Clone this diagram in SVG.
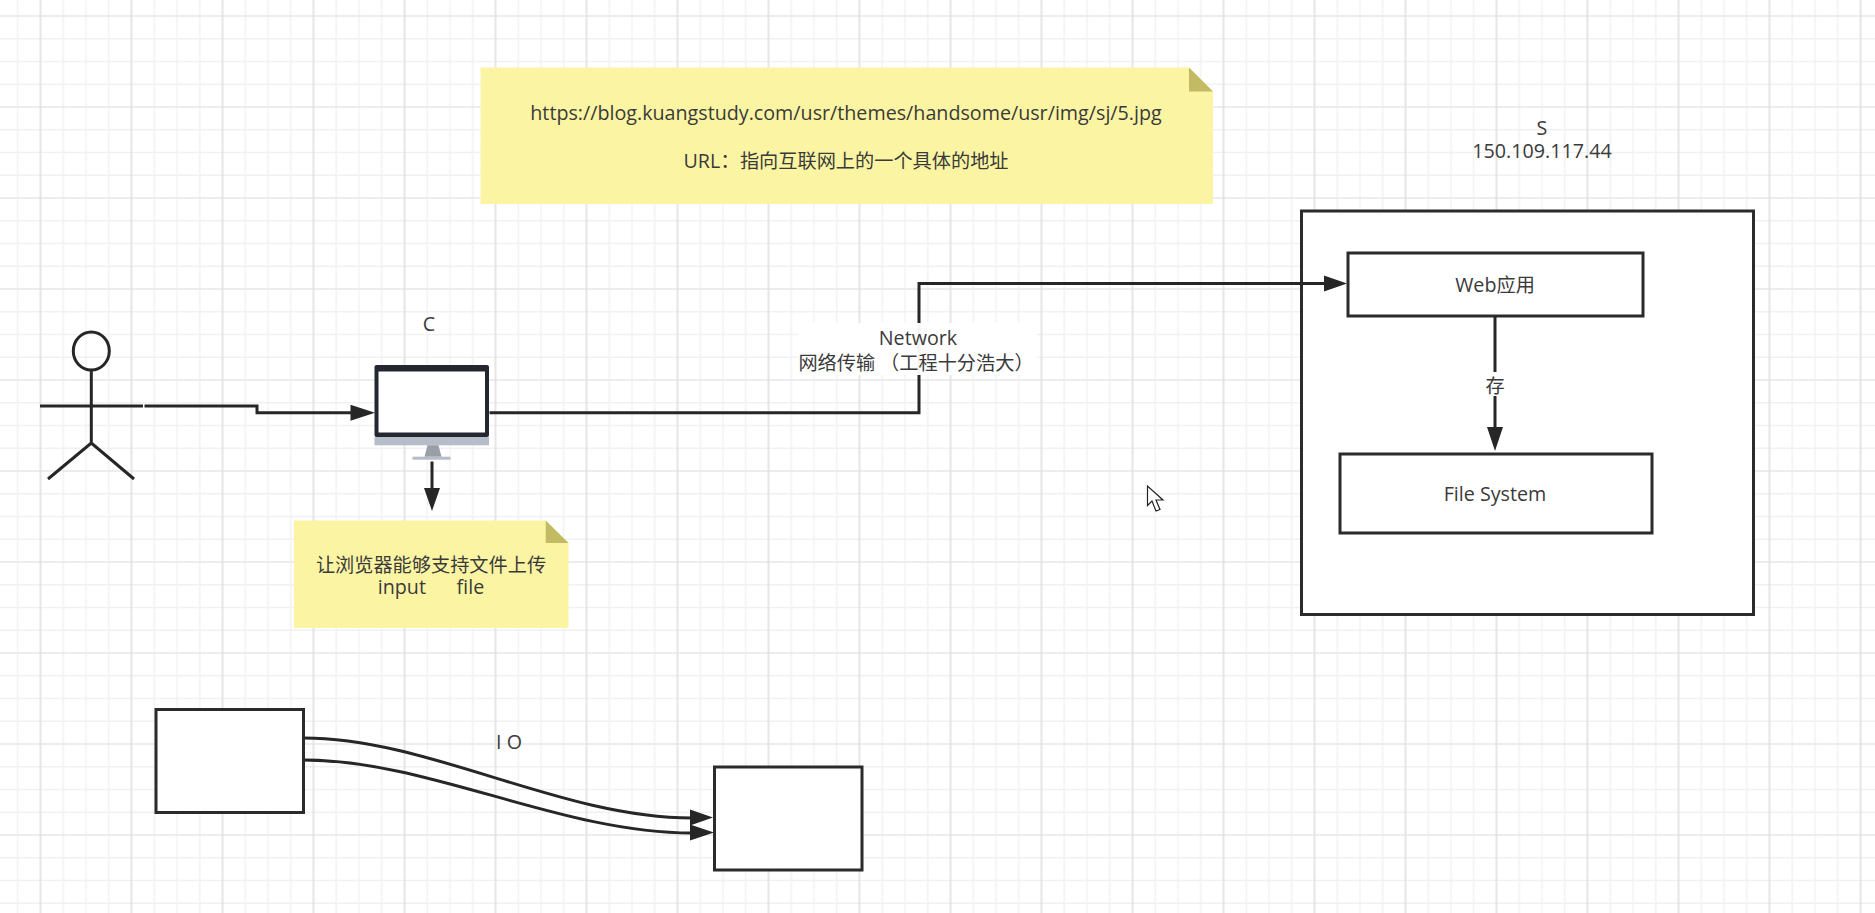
<svg xmlns="http://www.w3.org/2000/svg" width="1875" height="913" viewBox="0 0 1875 913">
<style>
text{font-family:"Open Sans","Noto Sans CJK SC",sans-serif;font-size:19.7px;fill:#3a3a3a;text-anchor:middle;dominant-baseline:central}
.box{fill:#fff;stroke:#2b2b2b;stroke-width:3}
.note{fill:#fbf5a3}
.fold{fill:#c2bb63}
.line{fill:none;stroke:#262626;stroke-width:3}
.head{fill:#262626}
.actor{fill:none;stroke:#262626;stroke-width:3}
.cjk{font-size:19.2px}
</style>
<defs>
<pattern id="grid" patternUnits="userSpaceOnUse" x="40.5" y="16" width="91" height="91">
<path d="M22.75 0V91M45.5 0V91M68.25 0V91M0 22.75H91M0 45.5H91M0 68.25H91" fill="none" stroke="#f1f1f1" stroke-width="1.5"/>
<path d="M0 0H91M0 91H91" fill="none" stroke="#e8e8e8" stroke-width="1.5"/>
<path d="M0 0V91M91 0V91" fill="none" stroke="#dedede" stroke-width="1.5"/>
</pattern>
</defs>
<rect id="background" width="1875" height="913" fill="#fff"/>
<rect id="grid-layer" width="1875" height="913" fill="url(#grid)"/>

<g id="note-url">
<polygon class="note" points="480.5,67.5 1189,67.5 1213,91.5 1213,204 480.5,204"/>
<polygon class="fold" points="1189,67.5 1213,91.5 1189,91.5"/>
<text x="846" y="112.5">https://blog.kuangstudy.com/usr/themes/handsome/usr/img/sj/5.jpg</text>
<text x="846" y="160">URL：<tspan class="cjk">指向互联网上的一个具体的地址</tspan></text>
</g>

<g id="server">
<rect class="box" x="1301.5" y="211" width="452" height="403.5"/>
<text x="1542" y="127">S</text>
<text x="1542" y="150.5">150.109.117.44</text>
</g>
<g id="web-app">
<rect class="box" x="1348" y="253" width="295" height="63"/>
<text x="1495" y="284">Web<tspan class="cjk">应用</tspan></text>
</g>
<g id="file-system">
<rect class="box" x="1340" y="454" width="312" height="79"/>
<text x="1495" y="493">File System</text>
</g>

<g id="connectors">
<path class="line" d="M144.5 406H257V412.7H352"/>
<polygon class="head" points="375,412.7 350.5,404.7 350.5,420.7"/>
<path class="line" d="M489.5 412.7H919V283.5H1326"/>
<polygon class="head" points="1347,283.5 1324,275.5 1324,291.5"/>
<path class="line" d="M432 461.5V490"/>
<polygon class="head" points="432,511 424,488 440,488"/>
<path class="line" d="M1495 316V430"/>
<polygon class="head" points="1495,451 1487,427 1503,427"/>
<path class="line" d="M303.5 738C430 738 560 818 692 818"/>
<polygon class="head" points="713,817.5 690,809.5 690,825.5"/>
<path class="line" d="M303.5 760C430 760 560 833 692 833"/>
<polygon class="head" points="714,832.5 690,824.5 690,840.5"/>
</g>

<g id="label-network">
<rect x="798" y="323" width="239" height="52" fill="#fff" fill-opacity="0.95"/>
<text x="918" y="337">Network</text>
<text x="916" y="362" class="cjk">网络传输 （工程十分浩大）</text>
</g>
<g id="label-store">
<rect x="1482" y="372" width="26" height="24" fill="#fff"/>
<text x="1495" y="385.5" class="cjk">存</text>
</g>
<text id="label-io" x="509" y="741">I O</text>

<g id="actor">
<ellipse class="actor" cx="91.3" cy="351" rx="18" ry="19"/>
<path class="actor" d="M91.3 370V443M40 406H143M48 479L91.3 443L134 479"/>
</g>

<g id="monitor">
<text x="429" y="323">C</text>
<rect x="374.5" y="365" width="114.5" height="72" rx="2" fill="#23272f"/>
<rect x="378.5" y="371.5" width="106.5" height="61" fill="#fff"/>
<rect x="374.5" y="437" width="114.5" height="8.3" fill="#b6bcc8"/>
<polygon points="427.5,445.3 438.5,445.3 441.5,456.7 424.5,456.7" fill="#9a9ea6"/>
<rect x="412.5" y="456.7" width="38" height="3" fill="#b6bcc8"/>
</g>

<g id="note-upload">
<polygon class="note" points="294,520.5 545.7,520.5 568.5,543 568.5,628 294,628"/>
<polygon class="fold" points="545.7,520.5 568.5,543 545.7,543"/>
<text x="431" y="564" class="cjk">让浏览器能够支持文件上传</text>
<text x="431" y="586" xml:space="preserve">input      file</text>
</g>

<g id="box-source"><rect class="box" x="156" y="709.5" width="147.5" height="103"/></g>
<g id="box-target"><rect class="box" x="714.5" y="767" width="147.5" height="103"/></g>

<polygon id="cursor" points="1147.5,486 1147.5,505.5 1152,501 1156,511 1160,509.5 1156,500 1163,500" fill="#fff" stroke="#222" stroke-width="1.2"/>
</svg>
